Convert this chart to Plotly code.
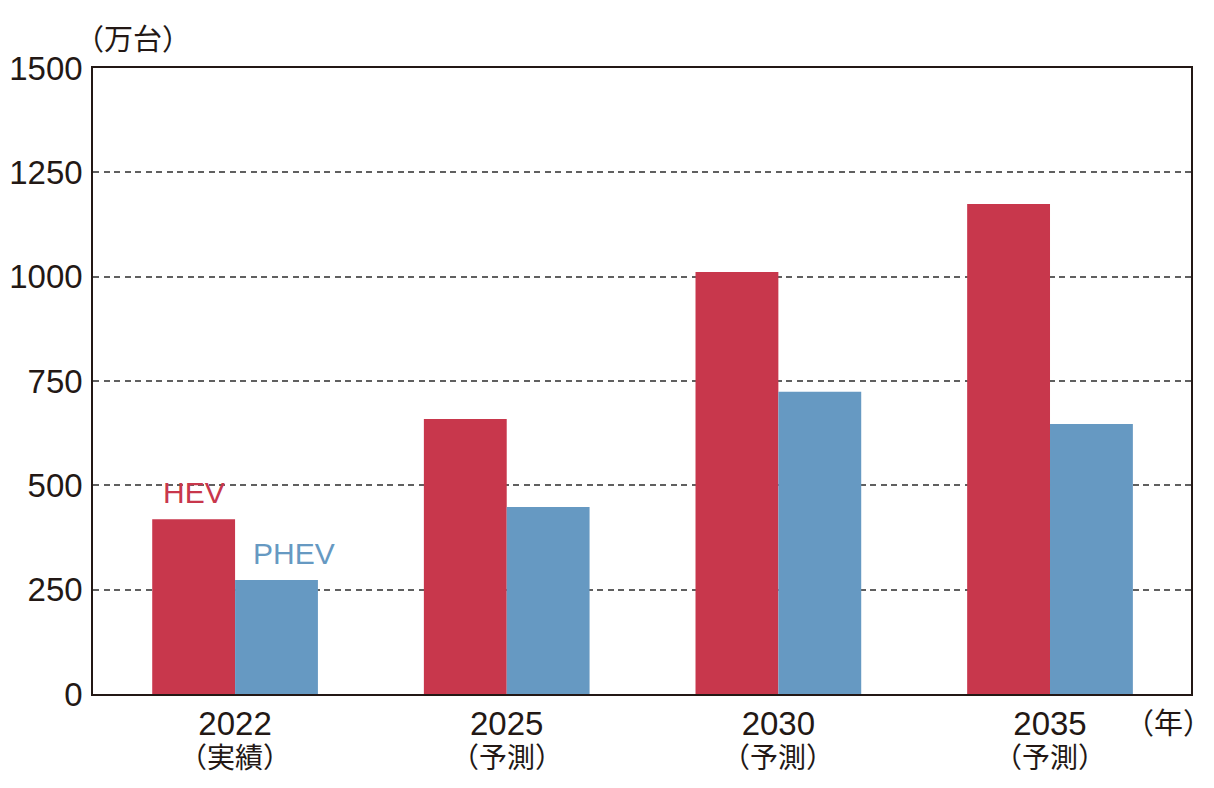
import plotly.graph_objects as go

years = ["2022", "2025", "2030", "2035"]
notes = ["（実績）", "（予測）", "（予測）", "（予測）"]
hev = [419, 659, 1011, 1174]
phev = [273, 448, 724, 647]
y_ticks = [0, 250, 500, 750, 1000, 1250, 1500]

HEV_C = "#C8374C"
PHEV_C = "#6699C2"
TXT = "#231815"
FONT = "Liberation Sans, Arial, Noto Sans CJK JP, sans-serif"

xpos = list(range(len(years)))

fig = go.Figure()
fig.add_trace(go.Bar(x=xpos, y=hev, name="HEV", marker=dict(color=HEV_C, line=dict(width=0))))
fig.add_trace(go.Bar(x=xpos, y=phev, name="PHEV", marker=dict(color=PHEV_C, line=dict(width=0))))

fig.update_layout(
    width=1214, height=788,
    margin=dict(l=85, r=31, t=60, b=102),
    paper_bgcolor="white", plot_bgcolor="white",
    barmode="group", bargap=0.39, bargroupgap=0,
    showlegend=False,
    font=dict(family=FONT, size=32, color=TXT),
)
fig.update_xaxes(
    range=[-0.523, 3.519],
    tickvals=xpos, ticktext=years, automargin=False,
    showline=True, linecolor=TXT, linewidth=1.5, mirror=True,
    showgrid=False, ticks="", tickfont=dict(size=33, color=TXT),
)
fig.update_yaxes(
    range=[0, 1500],
    tickvals=y_ticks, automargin=False,
    showline=True, linecolor=TXT, linewidth=1.5, mirror=True,
    showgrid=True, gridcolor="#606060", griddash="6px,4.5px", gridwidth=1.5,
    zeroline=False, ticks="", ticklabelstandoff=2, tickfont=dict(size=33, color=TXT),
)

for xp, n in zip(xpos, notes):
    fig.add_annotation(x=xp, y=0, xref="x", yref="paper", text=n, showarrow=False,
                       yanchor="middle", yshift=-64, font=dict(size=28, color=TXT))

fig.add_annotation(x=-0.1525, y=hev[0], yref="y", xref="x", text="HEV", showarrow=False,
                   yanchor="bottom", yshift=8, font=dict(size=30, color=HEV_C))
fig.add_annotation(x=0.1525, y=phev[0], yref="y", xref="x", text="PHEV", showarrow=False,
                   yanchor="bottom", xshift=17, yshift=8, font=dict(size=30, color=PHEV_C))
fig.add_annotation(x=0, y=1, xref="paper", yref="paper", text="（万台）", showarrow=False,
                   xanchor="left", yanchor="bottom", xshift=-20, yshift=10,
                   font=dict(size=29, color=TXT))
fig.add_annotation(x=1, y=0, xref="paper", yref="paper", text="（年）", showarrow=False,
                   xanchor="right", yanchor="top", xshift=23, yshift=-12,
                   font=dict(size=29, color=TXT))

fig.write_html("out.html")
